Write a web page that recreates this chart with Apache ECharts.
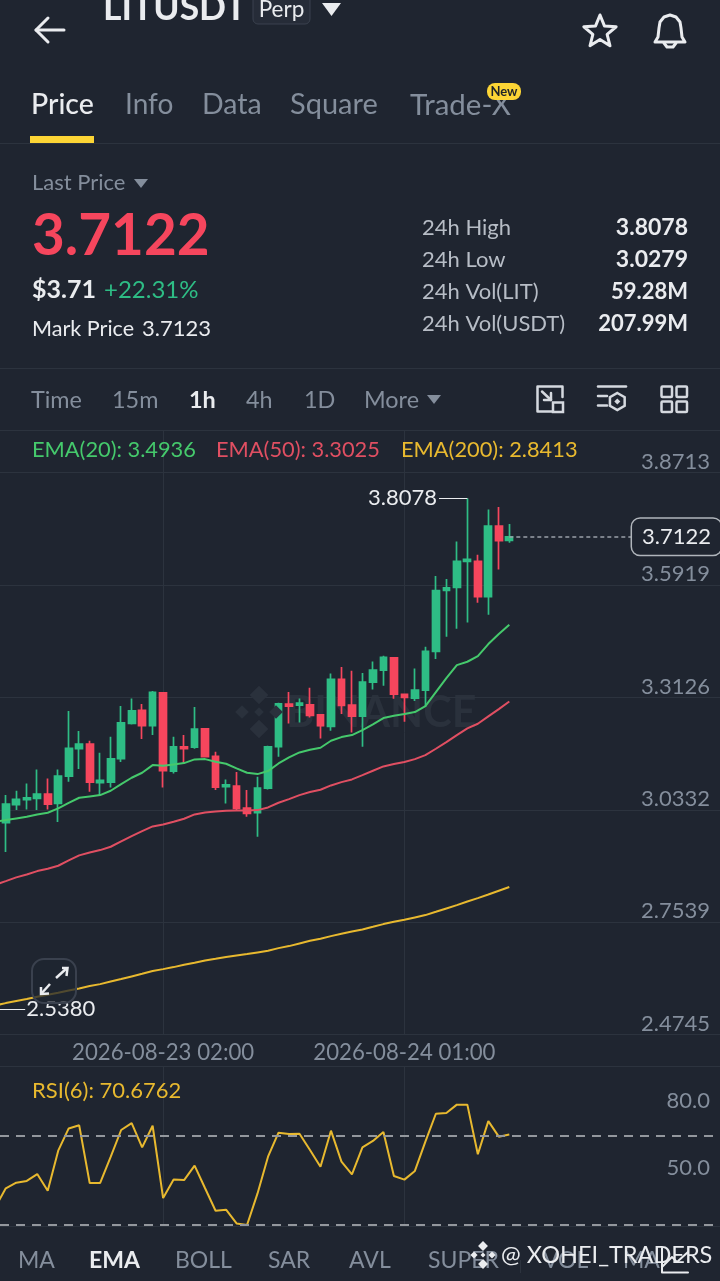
<!DOCTYPE html>
<html><head><meta charset="utf-8">
<style>html,body{margin:0;padding:0;background:#1f2530}#c{width:720px;height:1281px}</style>
<script src="https://cdn.jsdelivr.net/npm/echarts@6/dist/echarts.min.js"></script>
</head><body><div id="c"></div>
<script>
// candle index 0..48
const opens=[3.0011,3.0459,3.0583,3.0616,3.0724,3.0492,3.1172,3.1851,3.1967,3.1006,3.1022,3.1602,3.2481,3.2804,3.2423,3.3243,3.1296,3.1901,3.1893,3.2348,3.1660,3.0906,3.0923,3.0376,3.0260,3.0873,3.1901,3.2962,3.2937,3.2945,3.2696,3.2406,3.3575,3.2937,3.2663,3.3509,3.3807,3.4114,3.3202,3.3111,3.3310,3.4271,3.5788,3.5862,3.6509,3.6509,3.5630,3.7387,3.7031];
const closes=[3.0475,3.0591,3.0633,3.0724,3.0475,3.1172,3.1859,3.1967,3.1022,3.1064,3.1602,3.2498,3.2796,3.2423,3.3252,3.1304,3.1901,3.1851,3.2340,3.1652,3.0898,3.0956,3.0368,3.0243,3.0873,3.1901,3.2970,3.2912,3.2987,3.2680,3.2423,3.3575,3.2928,3.2663,3.3509,3.3807,3.4122,3.3210,3.3127,3.3310,3.4271,3.5780,3.5854,3.6509,3.6559,3.5630,3.7387,3.7023,3.7122];
const lows=[2.9282,3.0326,3.0343,3.0326,3.0343,3.0028,3.1031,3.1346,3.0782,3.0699,3.0890,3.1520,3.2456,3.2091,3.2191,3.0890,3.1238,3.1470,3.1851,3.1636,3.0823,3.0492,3.0326,3.0160,2.9663,3.0840,3.1652,3.2481,3.2506,3.2630,3.2108,3.2299,3.2713,3.2257,3.1901,3.3326,3.3417,3.3094,3.2522,3.3036,3.2895,3.4081,3.4636,3.4835,3.4992,3.5481,3.5183,3.6310,3.6973];
const highs=[3.0699,3.0807,3.0989,3.1337,3.1113,3.1337,3.2788,3.2290,3.2050,3.1752,3.2149,3.2912,3.3103,3.2962,3.3285,3.3260,3.2149,3.2191,3.2887,3.2357,3.1777,3.1089,3.1271,3.0823,3.1155,3.1926,3.2995,3.3260,3.3103,3.3368,3.2713,3.3724,3.3882,3.3790,3.3732,3.4022,3.4163,3.4130,3.3227,3.3848,3.4387,3.6144,3.6070,3.7006,3.8078,3.6675,3.7802,3.7860,3.7437];
// line values: first entry is the bar before index 0 (cut by the left edge)
const ema20=[3.0036,3.0078,3.0119,3.0160,3.0218,3.0260,3.0368,3.0508,3.0633,3.0666,3.0699,3.0807,3.0973,3.1130,3.1254,3.1445,3.1428,3.1462,3.1495,3.1586,3.1594,3.1528,3.1478,3.1362,3.1254,3.1221,3.1296,3.1486,3.1636,3.1760,3.1826,3.1876,3.2050,3.2141,3.2191,3.2315,3.2456,3.2614,3.2672,3.2713,3.2763,3.2912,3.3260,3.3608,3.3931,3.4014,3.4155,3.4453,3.4702,3.4936];
const ema50=[2.8470,2.8561,2.8653,2.8727,2.8810,2.8868,2.8943,2.9075,2.9200,2.9274,2.9332,2.9415,2.9548,2.9680,2.9805,2.9921,2.9970,3.0037,3.0111,3.0218,3.0268,3.0293,3.0310,3.0318,3.0318,3.0326,3.0392,3.0508,3.0600,3.0699,3.0774,3.0832,3.0939,3.1022,3.1089,3.1196,3.1304,3.1412,3.1470,3.1520,3.1594,3.1694,3.1851,3.2017,3.2191,3.2357,3.2473,3.2655,3.2837,3.3025];
const ema200=[2.5470,2.5528,2.5578,2.5628,2.5686,2.5735,2.5785,2.5843,2.5893,2.5951,2.6000,2.6067,2.6125,2.6191,2.6257,2.6324,2.6373,2.6423,2.6481,2.6531,2.6589,2.6630,2.6672,2.6713,2.6746,2.6788,2.6829,2.6895,2.6945,2.7011,2.7077,2.7127,2.7193,2.7251,2.7309,2.7359,2.7425,2.7492,2.7550,2.7599,2.7658,2.7716,2.7798,2.7881,2.7964,2.8055,2.8138,2.8229,2.8321,2.8413];
const rsi6=[38,46.5,49.0,49.8,52.9,45.4,63.4,73.4,74.8,48.9,48.9,60.6,72.7,75.8,64.9,74.6,42.1,50.4,50.2,56.7,46.5,36.4,36.9,30.7,30,44.2,60.7,71.5,70.9,71.0,63.7,56.2,72.4,58.5,52.8,64.9,67.8,71.8,52.0,50.4,54.3,67.5,80.0,80.3,84.1,84.1,61.8,76.7,69.7,70.6762];
const priceTicks=[2.4745,2.7539,3.0332,3.3126,3.5919,3.8713];
const rsiTicks=[50,80];
const rsiGuides=[30,70];
const timeTickIndex=[15,38];
const timeTickLabels=['2026-08-23 02:00','2026-08-24 01:00'];
const lastPrice=3.7122, highPrice=3.8078, lowPrice=2.5380;

const BG='#1f2530',GRID='#2c333e',GREY='#848e9c',UP='#2ebd85',DOWN='#f6465d',LG='#45c96c',LR='#e04f62',LY='#e8b92f';
const FONT='Lato, "Noto Sans", sans-serif';
const candles=opens.map((o,i)=>[i,o,closes[i],lows[i],highs[i]]);
const asLine=a=>a.map((v,i)=>[i-1,v]);

const g=[];
function T(x,y,text,size,fill,weight,align){g.push({type:'text',z:10,style:{x,y:y+1,text,fontSize:size,fontFamily:FONT,fontWeight:weight||400,fill,align:align||'left',verticalAlign:'middle'}});}
function L(pts,stroke,w){g.push({type:'polyline',z:10,shape:{points:pts},style:{stroke,fill:null,lineWidth:w||1,lineJoin:'round',lineCap:'round'}});}
function P(pts,fill,z){g.push({type:'polygon',z:z||10,shape:{points:pts},style:{fill}});}
function R(x,y,w,h,o){g.push({type:'rect',z:o.z||10,shape:{x,y,width:w,height:h,r:o.r||0},style:{fill:o.fill||null,stroke:o.stroke||null,lineWidth:o.w||1}});}
const tri=(a,b,y0,y1)=>[[a,y0],[b,y0],[(a+b)/2,y1]];
function logo(cx,cy,s,fill,z){const d=(x,y,r)=>P([[x,y-r],[x+r,y],[x,y+r],[x-r,y]],fill,z);d(cx,cy-s,s*.55);d(cx,cy+s,s*.55);d(cx-s,cy,s*.4);d(cx+s,cy,s*.4);d(cx,cy,s*.28);}

// header
T(103,8,'LITUSDT',35.5,'#eaecef',700);
R(253,-6,57,30,{r:5,fill:'#262c38',stroke:'#3a414e'});
T(281.5,9,'Perp',22.5,'#eaecef',400,'center');
P(tri(322,341,3,16),'#eaecef');
L([[36,30],[64,30]],'#eaecef',3);L([[48,18],[36,30],[48,42]],'#eaecef',3);
const star=[];for(let i=0;i<10;i++){const r=i%2?7.5:17,a=-Math.PI/2+i*Math.PI/5;star.push([600+r*Math.cos(a),32+r*Math.sin(a)]);}
g.push({type:'polygon',z:10,shape:{points:star},style:{stroke:'#eaecef',fill:null,lineWidth:3,lineJoin:'round'}});
L([[655,42],[658,37],[659,28],[660,22],[664,17],[670,15],[676,17],[680,22],[681,28],[682,37],[685,42],[655,42]],'#eaecef',3);
L([[664,43],[667,47],[673,47],[676,43]],'#eaecef',3);
// tabs
T(31,104,'Price',28.5,'#eaecef',500);T(125,104,'Info',28,GREY);T(202,104,'Data',28.5,GREY);T(290,104,'Square',29,GREY);T(410,104,'Trade-X',29.5,GREY);
R(487,83,34,17,{r:8,fill:'#fcd535'});T(504,91,'New',13,'#1e2329',700,'center');
R(30,136,64,7,{fill:'#fcd535'});
R(0,143,720,1,{fill:GRID});
// stats
T(32,182,'Last Price',22,GREY);P(tri(134,148,179,188),GREY);
T(32,236,'3.7122',56.6,DOWN,700);
T(32,289,'$3.71',25,'#eaecef',700);T(104,289,'+22.31%',24,UP);
T(32,328,'Mark Price',21.6,'#eaecef');T(142,328,'3.7123',22,'#eaecef');
[['24h High','3.8078',227,23],['24h Low','3.0279',259,23],['24h Vol(LIT)','59.28M',291,22],['24h Vol(USDT)','207.99M',323,22]].forEach(r=>{T(422,r[2],r[0],22,'#b7bdc6');T(688,r[2],r[1],r[3],'#eaecef',700,'right');});
R(0,368,720,1,{fill:GRID});
// interval row
T(31,399,'Time',23.4,GREY);T(112,399,'15m',23.4,GREY);T(189,399,'1h',23.4,'#eaecef',700);T(246,399,'4h',23.4,GREY);T(304,399,'1D',23.4,GREY);T(364,399,'More',23.4,GREY);P(tri(427,441,395,404),GREY);
const IC='#d5d9df';
L([[553,411.5],[537.5,411.5],[537.5,386.5],[562.5,386.5],[562.5,397]],IC,2.5);R(553,402.5,10,9.5,{stroke:IC,w:2.5});L([[542,391.5],[551,400]],IC,2.5);L([[551,393],[551,400],[544,400]],IC,2.5);
L([[598,386.5],[626,386.5]],IC,2.5);L([[598,396],[607,396]],IC,2.5);L([[598,405.5],[607,405.5]],IC,2.5);
const hex=[];for(let i=0;i<6;i++){const a=-Math.PI/2+i*Math.PI/3;hex.push([617.3+8.5*Math.cos(a),401.5+8.5*Math.sin(a)]);}
g.push({type:'polygon',z:10,shape:{points:hex},style:{stroke:IC,fill:null,lineWidth:2.5}});P([[617.3,398.5],[620.3,401.5],[617.3,404.5],[614.3,401.5]],IC);
[[661.5,386.5],[676.5,386.5],[661.5,401.5],[676.5,401.5]].forEach(p=>R(p[0],p[1],10.5,10.5,{stroke:IC,w:2.5,r:1}));
R(0,430,720,1,{fill:GRID});
// legend
T(32,449,'EMA(20): 3.4936',21.8,LG);T(216,449,'EMA(50): 3.3025',21.8,LR);T(401,449,'EMA(200): 2.8413',21.8,LY);
T(32,1090,'RSI(6): 70.6762',22,LY);
// watermark
logo(259,712,17,'#2a313c',0);
g.push({type:'text',z:0,style:{x:286,y:713,text:'BINANCE',fontSize:43,fontWeight:700,fontFamily:FONT,fill:'#2a313c',verticalAlign:'middle'}});
// expand button
R(32,959,44,44,{r:12,fill:'rgba(31,37,48,0.75)',stroke:'#3a414e',w:2,z:20});
g.push({type:'polyline',z:21,shape:{points:[[56,978],[67,968]]},style:{stroke:'#eaecef',lineWidth:2.5,fill:null}});
g.push({type:'polyline',z:21,shape:{points:[[62,968],[67.5,968],[66.5,976]]},style:{stroke:'#eaecef',lineWidth:2.5,fill:null}});
g.push({type:'polyline',z:21,shape:{points:[[50,984],[41,994]]},style:{stroke:'#eaecef',lineWidth:2.5,fill:null}});
g.push({type:'polyline',z:21,shape:{points:[[41,987],[41,994],[49,993.5]]},style:{stroke:'#eaecef',lineWidth:2.5,fill:null}});
// pane borders
R(0,1066,720,1,{fill:GRID});
R(0,1226,720,1,{fill:GRID});
// bottom tabs
T(18,1260,'MA',23,GREY);T(89,1260,'EMA',23,'#eaecef',700);T(175,1260,'BOLL',23,GREY);T(268,1260,'SAR',23,GREY);T(349,1260,'AVL',23,GREY);T(428,1260,'SUPER',23,GREY);T(543,1260,'VOL',23,GREY);T(623,1260,'MA',23,GREY);
R(520,1260,1,13,{fill:GRID});
// footer watermark
logo(483,1255,9,'#eaecef',30);
g.push({type:'text',z:31,style:{x:501,y:1255,text:'@ XOHEI_TRADERS',fontSize:23.5,fontFamily:FONT,fill:'#eaecef',verticalAlign:'middle'}});
L([[662,1248],[662,1272.5],[688,1272.5]],'#eaecef',2);L([[662,1267],[672,1257],[677,1262],[688,1252]],'#eaecef',2);

const chart=echarts.init(document.getElementById('c'),null,{renderer:'canvas',width:720,height:1281});
const xRange={min:-0.55,max:68.085};
const noLine={show:false};
chart.setOption({
 animation:false,backgroundColor:BG,
 grid:[{left:0,width:720,top:430,height:604.6},{left:0,width:720,top:1066,height:160}],
 xAxis:[
  {type:'value',gridIndex:0,...xRange,axisLine:{show:true,lineStyle:{color:GRID}},axisTick:{show:false,customValues:timeTickIndex},
   splitLine:{show:true,lineStyle:{color:GRID,width:1}},
   axisLabel:{customValues:timeTickIndex,formatter:v=>timeTickLabels[timeTickIndex.indexOf(v)]||'',color:GREY,fontSize:22.2,fontFamily:FONT,margin:7,hideOverlap:false,showMinLabel:true,showMaxLabel:true}},
  {type:'value',gridIndex:1,...xRange,axisLine:noLine,axisTick:{show:false,customValues:timeTickIndex},axisLabel:{show:false,customValues:timeTickIndex},
   splitLine:{show:true,lineStyle:{color:GRID,width:1}}}
 ],
 yAxis:[
  {type:'value',gridIndex:0,position:'right',min:2.4745,max:3.97753,scale:true,axisLine:noLine,axisTick:{show:false,customValues:priceTicks},
   splitLine:{show:true,lineStyle:{color:GRID,width:1}},
   axisLabel:{inside:true,customValues:priceTicks,formatter:v=>v.toFixed(4),color:GREY,fontSize:22,fontFamily:FONT,margin:10,verticalAlign:'bottom',lineHeight:22,showMinLabel:true,showMaxLabel:true}},
  {type:'value',gridIndex:1,position:'right',min:29.55,max:101.46,scale:true,axisLine:noLine,axisTick:{show:false,customValues:rsiTicks},splitLine:noLine,
   axisLabel:{inside:true,customValues:rsiTicks,formatter:v=>v.toFixed(1),color:GREY,fontSize:22,fontFamily:FONT,margin:10,verticalAlign:'bottom',lineHeight:26,showMinLabel:true,showMaxLabel:true}}
 ],
 graphic:{elements:g},
 series:[
  {type:'candlestick',xAxisIndex:0,yAxisIndex:0,data:candles,barWidth:7.2,z:3,
   itemStyle:{color:UP,color0:DOWN,borderColor:UP,borderColor0:DOWN,borderWidth:1.7},
   markLine:{silent:true,symbol:'none',animation:false,precision:4,data:[
    [{coord:[48,lastPrice],lineStyle:{color:'#9aa0a8',type:[4,3],width:1.5},label:{show:true,position:'end',distance:0,formatter:lastPrice.toFixed(4),color:'#eaecef',fontSize:22,fontFamily:FONT,backgroundColor:BG,borderColor:'#b0b5bb',borderWidth:1.5,borderRadius:8,padding:[8,10,6,10],align:'left',verticalAlign:'middle'}},{coord:[59.7,lastPrice]}],
    [{coord:[44,highPrice],lineStyle:{color:'#eaecef',type:'solid',width:1},label:{show:true,position:'end',distance:2,formatter:highPrice.toFixed(4),color:'#eaecef',fontSize:22,fontFamily:FONT,align:'right',verticalAlign:'middle'}},{coord:[41.3,highPrice]}],
    [{coord:[-0.55,lowPrice],lineStyle:{color:'#eaecef',type:'solid',width:1},label:{show:true,position:'end',distance:1,formatter:lowPrice.toFixed(4),color:'#eaecef',fontSize:22,fontFamily:FONT,align:'left',verticalAlign:'middle'}},{coord:[1.85,lowPrice]}]
   ]}},
  {type:'line',name:'EMA(20)',xAxisIndex:0,yAxisIndex:0,data:asLine(ema20),showSymbol:false,z:4,lineStyle:{color:LG,width:2}},
  {type:'line',name:'EMA(50)',xAxisIndex:0,yAxisIndex:0,data:asLine(ema50),showSymbol:false,z:4,lineStyle:{color:LR,width:2}},
  {type:'line',name:'EMA(200)',xAxisIndex:0,yAxisIndex:0,data:asLine(ema200),showSymbol:false,z:4,lineStyle:{color:LY,width:2}},
  {type:'line',name:'RSI(6)',xAxisIndex:1,yAxisIndex:1,data:asLine(rsi6),showSymbol:false,z:4,lineStyle:{color:LY,width:2},
   markLine:{silent:true,symbol:'none',animation:false,label:{show:false},lineStyle:{color:'#93979d',type:[9,7],width:2},data:rsiGuides.map(v=>({yAxis:v}))}}
 ]
});
</script></body></html>
